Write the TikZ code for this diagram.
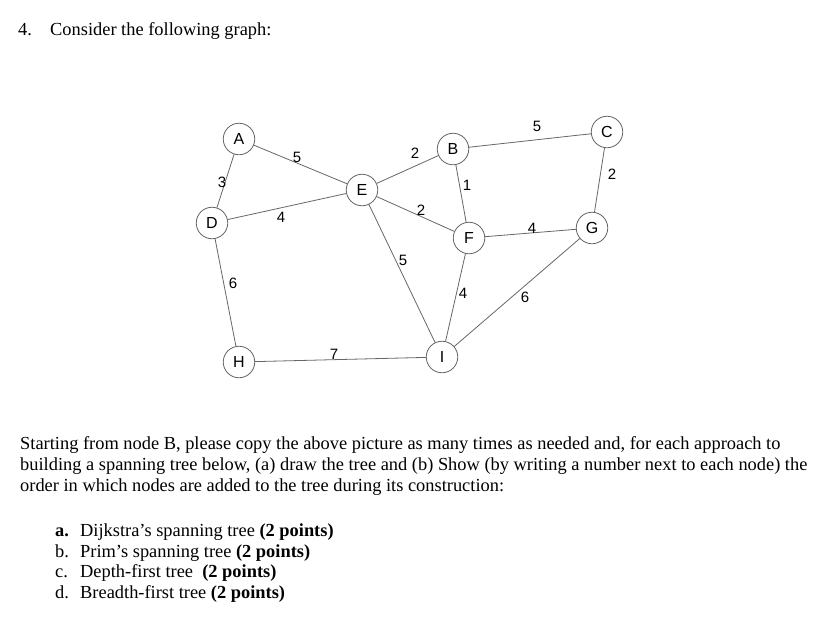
\documentclass[tikz,border=0pt]{standalone}
\usepackage{fontspec}
\setmainfont{Liberation Serif}
\newfontfamily\gfont{Liberation Sans}
\begin{document}
\begin{tikzpicture}[x=1pt,y=-1pt,
  vert/.style={circle,draw=black!60,line width=0.8pt,minimum size=31.5pt,inner sep=0pt,font=\gfont\fontsize{16}{16}\selectfont,fill=white},
  edge/.style={draw=black!60,line width=0.8pt},
  lbl/.style={font=\gfont\fontsize{15}{15}\selectfont,inner sep=0pt},
  txt/.style={anchor=base west,inner sep=0pt,font=\fontsize{18.4}{21}\selectfont}]
\useasboundingbox (0,0) rectangle (822,635);
% vertices
\node[vert] (A) at (239,139) {A};
\node[vert] (D) at (212,223) {D};
\node[vert] (E) at (362,190) {E};
\node[vert] (B) at (453,149) {B};
\node[vert] (C) at (607,132) {C};
\node[vert] (F) at (469,238) {F};
\node[vert] (G) at (592,228) {G};
\node[vert] (H) at (239,362) {H};
\node[vert] (I) at (442,357) {I};
% edges
\draw[edge] (A) -- (D);
\draw[edge] (A) -- (E);
\draw[edge] (D) -- (E);
\draw[edge] (E) -- (B);
\draw[edge] (E) -- (F);
\draw[edge] (E) -- (I);
\draw[edge] (B) -- (F);
\draw[edge] (B) -- (C);
\draw[edge] (C) -- (G);
\draw[edge] (F) -- (G);
\draw[edge] (F) -- (I);
\draw[edge] (G) -- (I);
\draw[edge] (D) -- (H);
\draw[edge] (H) -- (I);
% labels
\node[lbl] (lAD) at (222,182) {3};
\node[lbl] (lAE) at (297,157) {5};
\node[lbl] (lDE) at (281,217) {4};
\node[lbl] (lEB) at (415,153) {2};
\node[lbl] (lEF) at (421,210) {2};
\node[lbl] (lBF) at (467,185) {1};
\node[lbl] (lBC) at (537,126) {5};
\node[lbl] (lCG) at (612,174) {2};
\node[lbl] (lFG) at (532,228) {4};
\node[lbl] (lDH) at (233,283) {6};
\node[lbl] (lEI) at (403,260) {5};
\node[lbl] (lFI) at (463,293) {4};
\node[lbl] (lHI) at (334,354) {7};
\node[lbl] (lGI) at (525,297) {6};
% text
\node[txt] (t0) at (18,35) {4.};
\node[txt] (t1) at (50,35) {Consider the following graph:};
\node[txt] (p1) at (20,449) {Starting from node B, please copy the above picture as many times as needed and, for each approach to};
\node[txt] (p2) at (20,470) {building a spanning tree below, (a) draw the tree and (b) Show (by writing a number next to each node) the};
\node[txt] (p3) at (20,491) {order in which nodes are added to the tree during its construction:};
\node[txt] (la) at (55,536) {\textbf{a.}};
\node[txt] (ta) at (80,536) {Dijkstra’s spanning tree \textbf{(2 points)}};
\node[txt] (lb) at (55,557) {b.};
\node[txt] (tb) at (80,557) {Prim’s spanning tree \textbf{(2 points)}};
\node[txt] (lc) at (55,577) {c.};
\node[txt] (tc) at (80,577) {Depth-first tree\ \ \textbf{(2 points)}};
\node[txt] (ld) at (55,598) {d.};
\node[txt] (td) at (80,598) {Breadth-first tree \textbf{(2 points)}};
\end{tikzpicture}
\end{document}
